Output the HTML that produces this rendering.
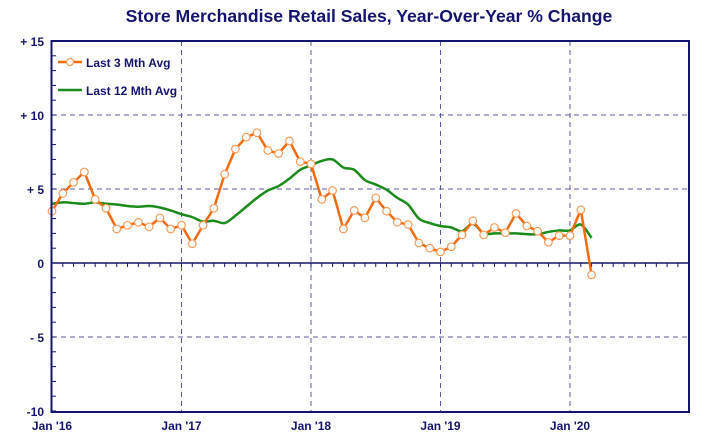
<!DOCTYPE html>
<html><head><meta charset="utf-8"><style>
body{margin:0;background:#fff;}
svg{display:block;font-family:"Liberation Sans",Arial,sans-serif;font-weight:bold;}
</style></head><body>
<svg id="chart" width="720" height="437">
<text x="369" y="22" text-anchor="middle" font-size="17.6" fill="#14146e">Store Merchandise Retail Sales, Year-Over-Year % Change</text>
<g id="grid"></g>
<g id="series"></g>
<rect x="51.5" y="41" width="637.5" height="371" fill="none" stroke="#14146e" stroke-width="2"/>
<g>
<line x1="58" y1="62" x2="82" y2="62" stroke="#f26b0f" stroke-width="2.5"/>
<circle cx="70" cy="62" r="3.5" fill="#fff" stroke="#f59c5a" stroke-width="1.2"/>
<text x="86" y="67" font-size="12" fill="#14146e">Last 3 Mth Avg</text>
<line x1="58" y1="90" x2="82" y2="90" stroke="#1a8a1a" stroke-width="2.5"/>
<text x="86" y="95" font-size="12" fill="#14146e">Last 12 Mth Avg</text>
</g>
</svg>
<script>
const yTicks=[15,10,5,0,-5,-10];
const yTickLabels=["+ 15","+ 10","+ 5","0","- 5","-10"];
const xTickLabels=["Jan '16","Jan '17","Jan '18","Jan '19","Jan '20"];
const avg3=[3.5,4.7,5.45,6.15,4.3,3.7,2.3,2.55,2.75,2.45,3.05,2.3,
2.55,1.3,2.55,3.7,6.0,7.7,8.5,8.8,7.6,7.4,8.25,6.85,
6.7,4.3,4.9,2.3,3.55,3.05,4.4,3.5,2.75,2.6,1.35,1.0,
0.75,1.1,1.9,2.85,1.9,2.4,2.05,3.35,2.5,2.15,1.4,1.85,
1.85,3.6,-0.8];
const avg12=[4.0,4.1,4.05,4.0,4.1,4.0,3.95,3.85,3.8,3.85,3.75,3.55,
3.3,3.1,2.8,2.85,2.7,3.2,3.8,4.4,4.9,5.2,5.7,6.3,
6.6,6.9,7.0,6.45,6.3,5.6,5.3,4.95,4.4,3.95,3.0,2.7,
2.5,2.4,2.15,2.65,2.0,2.0,2.0,2.0,1.95,1.95,2.1,2.2,
2.2,2.6,1.7];
const NS="http://www.w3.org/2000/svg";
const X0=52,MONTH=129.5/12,Y0=263,UNIT=14.8;
function xs(i){return X0+i*MONTH;}
function ys(v){return Y0-v*UNIT;}
function mk(tag,attrs,parent){const e=document.createElementNS(NS,tag);for(const k in attrs)e.setAttribute(k,attrs[k]);parent.appendChild(e);return e;}
function smooth(vals){
  const p=vals.map((v,i)=>[xs(i),ys(v)]);
  let d='M'+p[0][0]+','+p[0][1];
  for(let i=0;i<p.length-1;i++){
    const p0=p[Math.max(0,i-1)],p1=p[i],p2=p[i+1],p3=p[Math.min(p.length-1,i+2)];
    const c1=[p1[0]+(p2[0]-p0[0])/6,p1[1]+(p2[1]-p0[1])/6];
    const c2=[p2[0]-(p3[0]-p1[0])/6,p2[1]-(p3[1]-p1[1])/6];
    d+=' C'+c1[0]+','+c1[1]+' '+c2[0]+','+c2[1]+' '+p2[0]+','+p2[1];
  }
  return d;
}
const grid=document.getElementById('grid'),ser=document.getElementById('series');
yTicks.forEach((v,i)=>{
  if(v!==15&&v!==-10&&v!==0){const l=mk('line',{x1:52,x2:689,y1:ys(v),y2:ys(v),stroke:'#5a5aa0','stroke-dasharray':'5,4','stroke-width':1},grid);
  
  }
  const t=mk('text',{x:44,y:ys(v)+5,'text-anchor':'end','font-size':12,fill:'#14146e'},grid);
  t.textContent=yTickLabels[i];
  
  
});
for(let v=-10;v<=15;v++){mk('line',{x1:52,x2:56,y1:ys(v),y2:ys(v),stroke:'#14146e','stroke-width':1},grid);}
xTickLabels.forEach((s,i)=>{
  const x=xs(i*12);
  if(i>0){const l=mk('line',{x1:x,x2:x,y1:41,y2:412,stroke:'#5a5aa0','stroke-dasharray':'5,4','stroke-width':1},grid);
  
  }
  const t=mk('text',{x:x,y:430,'text-anchor':'middle','font-size':12,fill:'#14146e'},grid);
  t.textContent=s;
  
  
});
const zl=mk('line',{x1:52,x2:689,y1:Y0,y2:Y0,stroke:'#14146e','stroke-width':1.5},grid);


for(let m=0;m<59;m++){mk('line',{x1:xs(m),x2:xs(m),y1:Y0,y2:Y0+4,stroke:'#14146e','stroke-width':1},grid);}
const g12=mk('path',{d:smooth(avg12),fill:'none',stroke:'#1a8a1a','stroke-width':2.5,'stroke-linejoin':'round'},ser);


const g3=mk('polyline',{points:avg3.map((v,i)=>xs(i)+','+ys(v)).join(' '),fill:'none',stroke:'#f26b0f','stroke-width':2.5,'stroke-linejoin':'round'},ser);


avg3.forEach((v,i)=>{
  const c=mk('circle',{cx:xs(i),cy:ys(v),r:3.8,fill:'#fff',stroke:'#f59c5a','stroke-width':1.2},ser);
  
  
});
</script>
</body></html>
